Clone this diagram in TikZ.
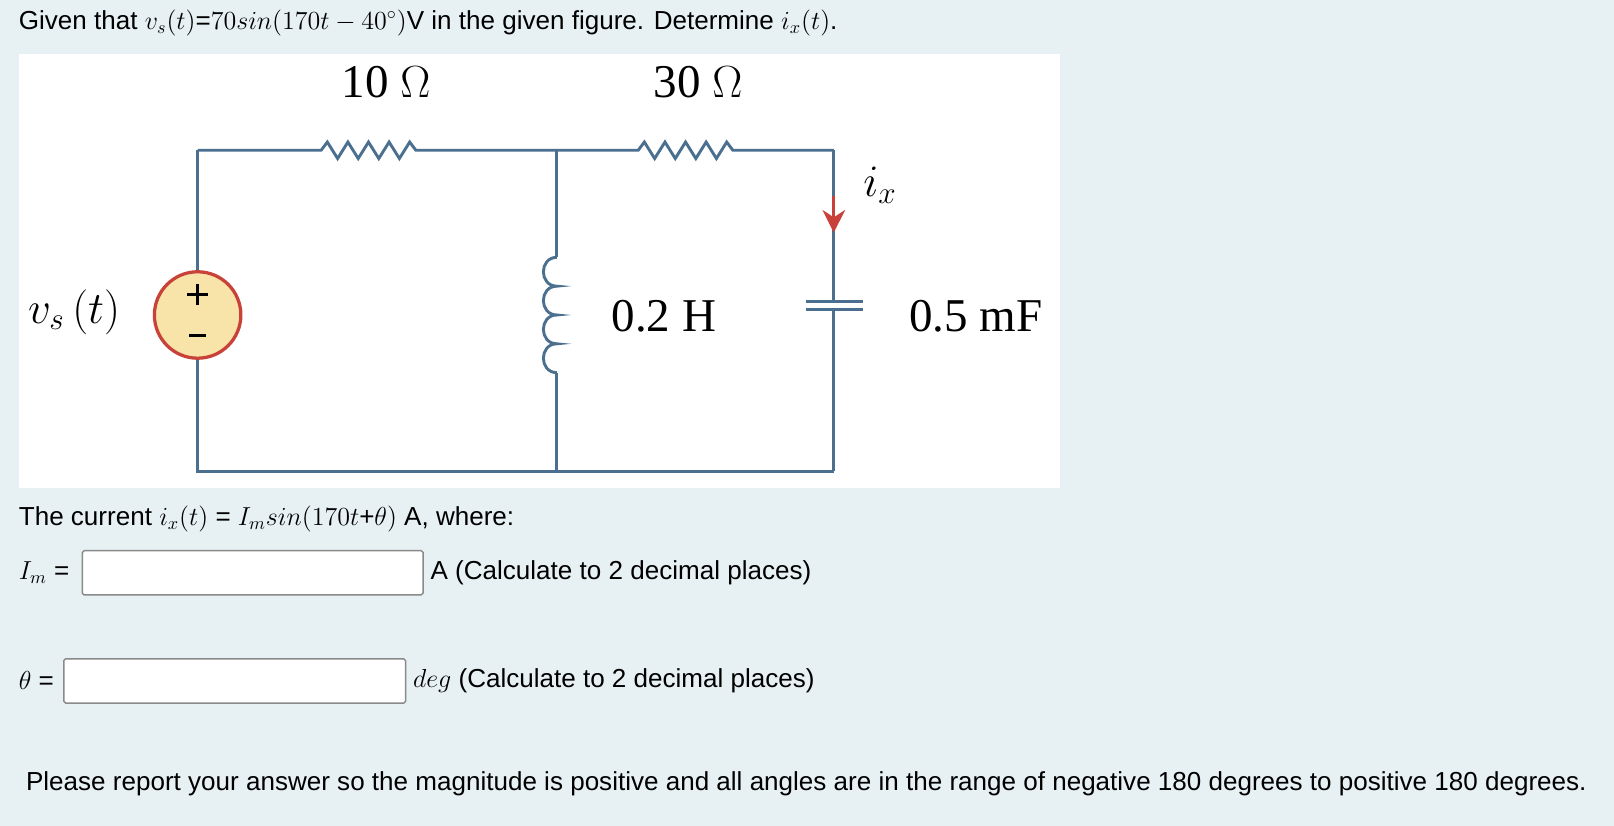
\documentclass[tikz,border=0pt]{standalone}
\usepackage{fontspec}
\setmainfont{Liberation Sans}
\newfontfamily\serifx{Liberation Serif}
\usetikzlibrary{arrows.meta}
\definecolor{bgc}{HTML}{E7F1F3}
\definecolor{wirec}{HTML}{4A6F8F}
\definecolor{srcf}{HTML}{F8E3A8}
\definecolor{srcd}{HTML}{C8423A}
\definecolor{boxc}{HTML}{8A8A8A}
\tikzset{wire/.style={draw=wirec,line width=1.6pt},
 lab/.style={font=\serifx\fontsize{26}{28}\selectfont,inner sep=0pt},
 txt/.style={font=\fontsize{14.4}{17}\selectfont,inner sep=0pt,anchor=west},
 ansbox/.style={draw=boxc,fill=white,line width=0.8pt,rounded corners=1pt}}
\begin{document}
\begin{tikzpicture}[x=0.02cm,y=-0.02cm]
\fill[bgc] (0,0) rectangle (1568,802);
\useasboundingbox (0,0) rectangle (1568,802);
\fill[white] (18,52) rectangle (1030,474);
\node[txt] (t1) at (18,22) {Given that $v_s(t)$=$70sin(170t-40^\circ)$V in the given figure. Determine $i_x(t)$.};
% circuit
\coordinate (tl) at (192,146); \coordinate (tm) at (541,146); \coordinate (tr) at (810,146);
\coordinate (bl) at (192,458); \coordinate (bm) at (541,458); \coordinate (br) at (810,458);
\draw[wire] (tl) -- (312,146) -- (318,138) -- (328,154) -- (338,138) -- (348,154) -- (358,138) -- (368,154) -- (378,138) -- (388,154) -- (398,138) -- (404,146) -- (tm);
\draw[wire] (tm) -- (620,146) -- (626,138) -- (636,154) -- (646,138) -- (656,154) -- (666,138) -- (676,154) -- (686,138) -- (696,154) -- (706,138) -- (712,146) -- (tr);
\node[circle,draw=srcd,fill=srcf,line width=1.8pt,minimum size=84*0.02cm,inner sep=0pt] (src) at (192,306) {};
\draw[wire] (tl) -- (src.north); \draw[wire] (src.south) -- (bl) -- (br);
\draw[line width=1.5pt] (182,286) -- (202,286) (192,276) -- (192,296) (184,326) -- (200,326);
% inductor
\draw[wire] (tm) -- (541,250);
\draw[wire] (541,250) \foreach \k in {0,1,2,3} { to[out=180,in=180,looseness=1.6] (541,{250+(\k+1)*28}) } -- (541,362);
\draw[wire] (541,362) -- (bm);
% capacitor
\draw[wire] (tr) -- (810,293) (810,301) -- (br);
\draw[wire] (783,293) -- (838,293) (783,301) -- (838,301);
\draw[-{Stealth[length=22*0.02cm,width=22*0.02cm]},draw=srcd,fill=srcd,line width=1.6pt] (810,190) -- (810,226);
% labels
\node[lab] (r1) at (375,80) {10 $\Omega$};
\node[lab] (r2) at (678,80) {30 $\Omega$};
\node[lab] (ix) at (855,180) {$i_x$};
\node[lab] (vs) at (72,303) {$v_s\,(t)$};
\node[lab] (lh) at (645,307) {0.2 H};
\node[lab] (cf) at (948,307) {0.5 mF};
% question
\node[txt] (t2) at (18,504) {The current $i_x(t)$ = $I_m sin(170t$+$\theta)$ A, where:};
\node[txt] (t3) at (18,556) {$I_m$ =};
\draw[ansbox] (80,535) rectangle (411,578);
\node[txt] (t4) at (418,556) {A (Calculate to 2 decimal places)};
\node[txt] (t5) at (18,661) {$\theta$ =};
\draw[ansbox] (62,640) rectangle (394,683);
\node[txt] (t6) at (401,661) {$deg$ (Calculate to 2 decimal places)};
\node[txt] (t7) at (25,761) {Please report your answer so the magnitude is positive and all angles are in the range of negative 180 degrees to positive 180 degrees.};
\end{tikzpicture}
\end{document}
